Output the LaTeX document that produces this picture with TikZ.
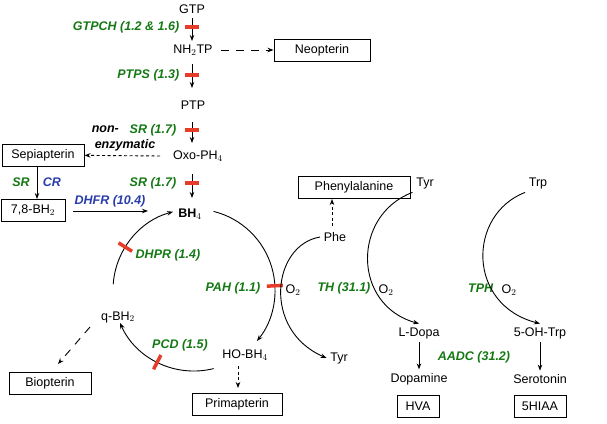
\documentclass[tikz,border=0pt]{standalone}
\usepackage{fontspec}
\setmainfont{Liberation Sans}
\usetikzlibrary{arrows.meta}
\definecolor{eg}{RGB}{20,120,20}
\definecolor{eb}{RGB}{40,60,170}
\definecolor{rb}{RGB}{230,60,40}
\begin{document}
\begin{tikzpicture}[x=1pt,y=-1pt,font=\fontsize{12.5}{14}\selectfont,line width=0.9pt,
  box/.style={draw,line width=1pt,inner sep=4pt,minimum height=22pt},
  enz/.style={font=\fontsize{12.5}{14}\selectfont\bfseries\itshape,text=eg},
  enzb/.style={font=\fontsize{12.5}{14}\selectfont\bfseries\itshape,text=eb},
  bar/.style={draw=rb,line width=3.5pt},
  arr/.style={-{Stealth[length=6pt]}},
  darr/.style={-{Stealth[length=6pt]},dash pattern=on 8pt off 7pt},
  dotarr/.style={-{Stealth[length=6pt]},dash pattern=on 3pt off 2.5pt}]
\useasboundingbox (0,0) rectangle (607,423);
% main chain
\node (gtp) at (192,9) {GTP};
\node (nh2tp) at (193,50) {NH$_2$TP};
\node (ptp) at (193,105) {PTP};
\node (oxo) at (198,156) {Oxo-PH$_4$};
\node (bh4) at (190,214) {\bfseries BH$_4$};
\node[box,minimum width=96pt] (neo) at (322,50) {Neopterin};
\node[box,minimum width=82pt] (sepi) at (43,155) {Sepiapterin};
\node[box,minimum width=64pt] (bh2) at (33,210) {7,8-BH$_2$};
\draw[arr] (192,18) -- (192,41);
\draw[arr] (192,64) -- (192,88);
\draw[arr] (192,122) -- (192,143);
\draw[arr] (192,174) -- (192,198);
\draw[darr] (221,50) -- (neo);
\draw[dotarr] (160,156) -- (sepi);
\draw[arr] (37,167) -- (37,199);
\draw[arr] (73,211) -- (148,211);
\foreach \y in {27,75,130,183} \draw[bar] (185,\y) -- (199,\y);
\node[enz,anchor=east] (g1) at (183,27) {GTPCH (1.2 \& 1.6)};
\node[enz,anchor=east] (g2) at (183,75) {PTPS (1.3)};
\node[enz,anchor=east] (g3) at (180,130) {SR (1.7)};
\node[enz,anchor=east] (g4) at (180,183) {SR (1.7)};
\node[font=\fontsize{12.5}{14}\selectfont\bfseries\itshape,anchor=west] (ne1) at (88,129) {non-};
\node[font=\fontsize{12.5}{14}\selectfont\bfseries\itshape,anchor=west] (ne2) at (91,145) {enzymatic};
\node[enz] (sr) at (21,182) {SR};
\node[enzb] (cr) at (52,182) {CR};
\node[enzb] (dhfr) at (110,201) {DHFR (10.4)};
% cycle
\draw[arr] (194,290) ++(-76:81) arc[start angle=-76,end angle=39,radius=81];
\draw[arr] (194,290) ++(76:81) arc[start angle=76,end angle=156,radius=81];
\draw[arr] (194,290) ++(184:81) arc[start angle=184,end angle=255,radius=81];
\foreach \a in {-3,212,117} \draw[bar] (194,290) ++(\a:73) -- ++(\a:16);
\node[enz] (dhpr) at (168,255) {DHPR (1.4)};
\node[enz,anchor=east] (pah) at (264,288) {PAH (1.1)};
\node[enz] (pcd) at (180,345) {PCD (1.5)};
\node (qbh2) at (118,317) {q-BH$_2$};
\node (hobh4) at (245,355) {HO-BH$_4$};
\node[box,minimum width=82pt] (bio) at (50,383) {Biopterin};
\node[box,minimum width=90pt] (prim) at (237,404) {Primapterin};
\draw[darr] (90,327) -- (58,364);
\draw[dotarr] (238,366) -- (238,388);
% PAH
\node[box,minimum width=112pt] (phen) at (354,187) {Phenylalanine};
\node (phe) at (335,237) {Phe};
\node (o2a) at (293,290) {O$_2$};
\node (tyr1) at (339,358) {Tyr};
\draw[dotarr] (332,226) -- (332,199);
\draw[arr] (phe.west) .. controls (272,245) and (262,330) .. (tyr1.west);
% TH
\node (tyr2) at (425,183) {Tyr};
\node[enz] (th) at (344,288) {TH (31.1)};
\node (o2b) at (386,290) {O$_2$};
\node (ldopa) at (419,333) {L-Dopa};
\node (dopa) at (419,379) {Dopamine};
\node[box,minimum width=42pt] (hva) at (418,406) {HVA};
\draw[arr] (tyr2.south west) .. controls (352,215) and (352,305) .. (ldopa.north);
\draw[arr] (ldopa) -- (dopa);
% TPH
\node (trp) at (538,183) {Trp};
\node[enz,anchor=east] (tph) at (497,288) {TPH};
\node (o2c) at (509,290) {O$_2$};
\node (oht) at (540,333) {5-OH-Trp};
\node[enz] (aadc) at (474,357) {AADC (31.2)};
\node (sero) at (540,379) {Serotonin};
\node[box,minimum width=52pt] (hia) at (540,406) {5HIAA};
\draw[arr] (trp.south west) .. controls (467,215) and (467,305) .. (oht.north);
\draw[arr] (oht) -- (sero);
\end{tikzpicture}
\end{document}
